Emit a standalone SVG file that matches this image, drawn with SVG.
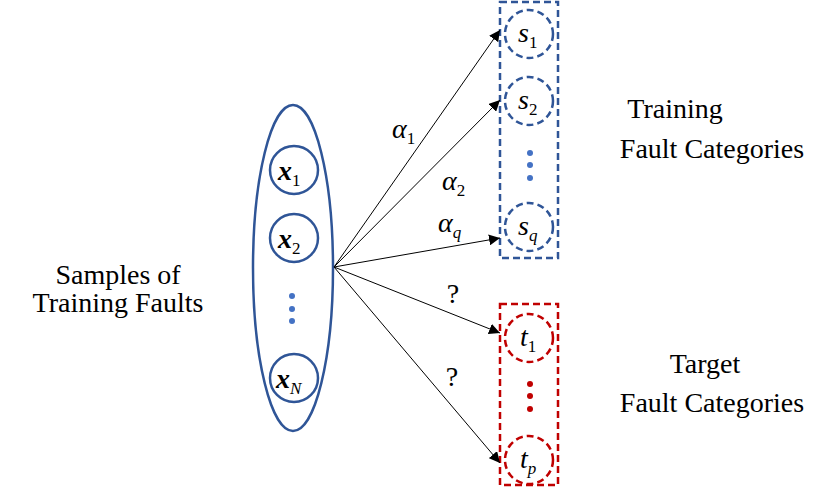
<svg xmlns="http://www.w3.org/2000/svg" width="820" height="487" viewBox="0 0 820 487" font-family="'Liberation Serif','Times New Roman','DejaVu Serif',serif">
<defs>
<marker id="ah" viewBox="0 0 10 10" refX="10" refY="5" markerWidth="11" markerHeight="11" markerUnits="userSpaceOnUse" orient="auto"><path d="M0,0L10,5L0,10z" fill="#000"/></marker>
<style>
text{font-family:'Liberation Serif','Times New Roman','DejaVu Serif',serif}
.t{font-size:28px;fill:#000;text-anchor:middle}
.m{font-style:italic;font-size:28px}
.sub{font-size:17px;font-style:italic}
.sn{font-size:17px;font-style:normal}
.sc{fill:none;stroke:#2F5597;stroke-width:2.5;stroke-dasharray:7,4}
.tc{fill:none;stroke:#C00000;stroke-width:2.5;stroke-dasharray:7,4}
.xc{fill:none;stroke:#2F5597;stroke-width:2.5}
.c{stroke:#000;stroke-width:1;fill:none;marker-end:url(#ah)}
</style>
</defs>
<rect width="820" height="487" fill="#fff"/>
<text class="t" x="118" y="284">Samples of</text>
<text class="t" x="118" y="312">Training Faults</text>
<text class="t" x="675" y="118">Training</text>
<text class="t" x="712" y="158">Fault Categories</text>
<text class="t" x="705" y="373">Target</text>
<text class="t" x="712" y="412">Fault Categories</text>
<g id="samples">
<ellipse class="xc" cx="293" cy="268" rx="40" ry="163"/>
<circle class="xc" cx="294" cy="170" r="24"/>
<text class="m" x="278" y="180" font-weight="bold">x<tspan class="sn" font-weight="normal" dy="6">1</tspan></text>
<circle class="xc" cx="294" cy="238" r="24"/>
<text class="m" x="278" y="248" font-weight="bold">x<tspan class="sn" font-weight="normal" dy="6">2</tspan></text>
<g fill="#4472C4"><circle cx="292" cy="296" r="3"/><circle cx="292" cy="309" r="3"/><circle cx="292" cy="321" r="3"/></g>
<circle class="xc" cx="294" cy="378" r="24"/>
<text class="m" x="276" y="388" font-weight="bold">x<tspan class="sub" font-weight="normal" dy="6">N</tspan></text>
</g>
<g id="training">
<rect x="500" y="2" width="58" height="256" fill="none" stroke="#2F5597" stroke-width="2.5" stroke-dasharray="7,4"/>
<circle class="sc" cx="529" cy="34" r="24"/>
<text class="m" x="518" y="42">s<tspan class="sn" dy="6">1</tspan></text>
<circle class="sc" cx="529" cy="101" r="24"/>
<text class="m" x="518" y="109">s<tspan class="sn" dy="6">2</tspan></text>
<g fill="#4472C4"><circle cx="530" cy="153" r="3"/><circle cx="530" cy="165" r="3"/><circle cx="530" cy="178" r="3"/></g>
<circle class="sc" cx="529" cy="227" r="24"/>
<text class="m" x="518" y="235">s<tspan class="sub" dy="6">q</tspan></text>
</g>
<g id="target">
<rect x="500" y="304" width="58" height="181" fill="none" stroke="#C00000" stroke-width="2.5" stroke-dasharray="7,4"/>
<circle class="tc" cx="529" cy="338" r="24"/>
<text class="m" x="520" y="346">t<tspan class="sn" dy="6">1</tspan></text>
<g fill="#C00000"><circle cx="530" cy="384" r="3"/><circle cx="530" cy="396" r="3"/><circle cx="530" cy="409" r="3"/></g>
<circle class="tc" cx="529" cy="460" r="24"/>
<text class="m" x="520" y="468">t<tspan class="sub" dy="6">p</tspan></text>
</g>
<g id="connectors">
<line class="c" x1="334" y1="267" x2="500" y2="30"/>
<line class="c" x1="334" y1="267" x2="500" y2="100"/>
<line class="c" x1="334" y1="267" x2="500" y2="238"/>
<line class="c" x1="334" y1="267" x2="500" y2="333"/>
<line class="c" x1="334" y1="267" x2="500" y2="463"/>
<text class="m" x="392" y="138">α<tspan class="sn" dy="6">1</tspan></text>
<text class="m" x="442" y="190">α<tspan class="sn" dy="6">2</tspan></text>
<text class="m" x="438" y="232">α<tspan class="sub" dy="6">q</tspan></text>
<text class="t" x="453" y="303" font-size="24">?</text>
<text class="t" x="452" y="386" font-size="24">?</text>
</g>
</svg>
